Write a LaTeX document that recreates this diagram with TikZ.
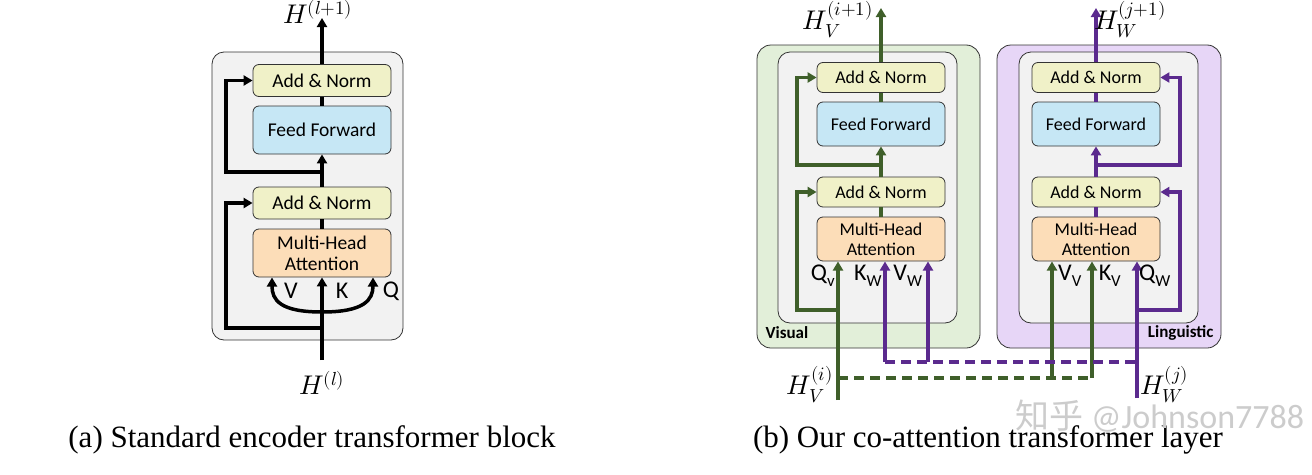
\documentclass[tikz,border=0pt]{standalone}
\usepackage{fontspec}
\usepackage{unicode-math}
\setmainfont{Liberation Serif}
\setsansfont{Carlito}
\newfontfamily\cjk{Noto Sans CJK SC}
\usetikzlibrary{arrows.meta,calc}
\definecolor{gbox}{HTML}{F2F2F2}
\definecolor{yel}{HTML}{F0F1C8}
\definecolor{blu}{HTML}{C6E7F5}
\definecolor{ora}{HTML}{FCDDB8}
\definecolor{grn}{HTML}{3F5F2A}
\definecolor{pur}{HTML}{5B2A8E}
\definecolor{grnbg}{HTML}{E2EFD9}
\definecolor{purbg}{HTML}{E7D6F7}
\tikzset{
 box/.style={draw=black!80,line width=0.8pt,rounded corners=6pt,font=\sffamily\fontsize{19.5}{22}\selectfont,align=center,inner sep=0pt},
 an/.style={box,fill=yel,minimum width=138pt,minimum height=32pt},
 ff/.style={box,fill=blu,minimum width=138pt,minimum height=48pt},
 mh/.style={box,fill=ora,minimum width=138pt,minimum height=48pt},
 an2/.style={box,fill=yel,minimum width=128pt,minimum height=30pt,font=\sffamily\fontsize{18}{21}\selectfont},
 ff2/.style={box,fill=blu,minimum width=128pt,minimum height=44pt,font=\sffamily\fontsize{18}{21}\selectfont},
 mh2/.style={box,fill=ora,minimum width=128pt,minimum height=44pt,font=\sffamily\fontsize{18}{21}\selectfont},
 ar/.style={line width=3.5pt,-{Triangle[length=9pt,width=10pt]}},
 ln/.style={line width=3.5pt},
 lab/.style={font=\sffamily\fontsize{24}{26}\selectfont,inner sep=0pt},
 mth/.style={font=\fontsize{27}{30}\selectfont,inner sep=0pt},
 dsh/.style={line width=3.5pt,dash pattern=on 10pt off 6pt},
 captxt/.style={font=\fontsize{31}{34}\selectfont},
}
\begin{document}
\begin{tikzpicture}[x=1pt,y=-1pt]
\useasboundingbox (0,0) rectangle (1312,474);
% ---------- (a)
\draw[black!80,line width=0.8pt,fill=gbox,rounded corners=12pt] (212,52) rectangle (403,340);
\node[an] (a1) at (322,80.5) {Add \& Norm};
\node[ff] (f1) at (322,130) {Feed Forward};
\node[an] (a2) at (322,203) {Add \& Norm};
\node[mh] (m1) at (322,253) {Multi-Head\\[-1pt]Attention};
\coordinate (in) at (322,360);
\coordinate (out) at (322,18);
\node[mth] (hl) at (322,383) {$H^{(l)}$};
\node[mth] (hl1) at (318,12) {$H^{(l+1)}$};
\draw[ar] (in) -- (m1.south);
\draw[ar] (322,312) .. controls (280,312) and (272,300) .. (272,277.5);
\draw[ar] (322,312) .. controls (364,312) and (373,300) .. (373,277.5);
\draw[ln] (m1.north) -- (a2.south);
\draw[ar] (a2.north) -- (f1.south);
\draw[ln] (f1.north) -- (a1.south);
\draw[ar] (a1.north) -- (out);
\draw[ar] (322,328) -- (226,328) -- (226,203) -- (a2.west);
\draw[ar] (322,172) -- (226,172) -- (226,80.5) -- (a1.west);
\node[lab] at (291,291) {V};
\node[lab] at (342,291) {K};
\node[lab] at (391,291) {Q};
\node[captxt] (ca) at (312,440) {(a) Standard encoder transformer block};
% ---------- (b) boxes
\draw[black!80,line width=0.8pt,fill=grnbg,rounded corners=14pt] (757,45) rectangle (980,348);
\draw[black!80,line width=0.8pt,fill=gbox,rounded corners=12pt] (778,52) rectangle (957,323);
\draw[black!80,line width=0.8pt,fill=purbg,rounded corners=14pt] (997,45) rectangle (1221,348);
\draw[black!80,line width=0.8pt,fill=gbox,rounded corners=12pt] (1019,52) rectangle (1198,323);
\node[font=\sffamily\bfseries\fontsize{17}{19}\selectfont,anchor=west] (vis) at (762,333) {Visual};
\node[font=\sffamily\bfseries\fontsize{17}{19}\selectfont,anchor=east] (lin) at (1217,333) {Linguistic};
\node[an2] (va1) at (881,77.5) {Add \& Norm};
\node[ff2] (vf) at (881,124) {Feed Forward};
\node[an2] (va2) at (881,192) {Add \& Norm};
\node[mh2] (vm) at (881,239) {Multi-Head\\[-1pt]Attention};
\node[an2] (la1) at (1096,77.5) {Add \& Norm};
\node[ff2] (lf) at (1096,124) {Feed Forward};
\node[an2] (la2) at (1096,192) {Add \& Norm};
\node[mh2] (lm) at (1096,239) {Multi-Head\\[-1pt]Attention};
% visual stream
\begin{scope}[draw=grn,color=grn]
\draw[dsh] (838,378) -- (1092,378);
\draw[ar] (838,400) -- (838,261.5);
\draw[ar] (1052,378) -- (1052,261.5);
\draw[ar] (1092,378) -- (1092,261.5);
\draw[ar] (838,310) -- (797,310) -- (797,192) -- (va2.west);
\draw[ln] (vm.north) -- (va2.south);
\draw[ar] (va2.north) -- (vf.south);
\draw[ln] (vf.north) -- (va1.south);
\draw[ar] (881,165) -- (797,165) -- (797,77.5) -- (va1.west);
\draw[ar] (va1.north) -- (881,8);
\end{scope}
% linguistic stream
\begin{scope}[draw=pur,color=pur]
\draw[dsh] (885,362) -- (1137,362);
\draw[ar] (1137,398) -- (1137,261.5);
\draw[ar] (885,362) -- (885,261.5);
\draw[ar] (928,362) -- (928,261.5);
\draw[ar] (1137,310) -- (1180,310) -- (1180,192) -- (la2.east);
\draw[ln] (lm.north) -- (la2.south);
\draw[ar] (la2.north) -- (lf.south);
\draw[ln] (lf.north) -- (la1.south);
\draw[ar] (1096,165) -- (1180,165) -- (1180,77.5) -- (la1.east);
\draw[ar] (la1.north) -- (1096,8);
\end{scope}
% labels
\node[lab] at (823,276) {Q\textsubscript{v}};
\node[lab] at (868,276) {K\textsubscript{W}};
\node[lab] at (908,276) {V\textsubscript{W}};
\node[lab] at (1070,276) {V\textsubscript{V}};
\node[lab] at (1110,276) {K\textsubscript{V}};
\node[lab] at (1155,276) {Q\textsubscript{W}};
\node[mth] (hv) at (810,385) {$H_V^{(i)}$};
\node[mth] (hw) at (1164,385) {$H_W^{(j)}$};
\node[mth] (hv1) at (838,20) {$H_V^{(i+1)}$};
\node[mth] (hw1) at (1130,20) {$H_W^{(j+1)}$};
\node[captxt] (cb) at (988,440) {(b) Our co-attention transformer layer};
\node[font=\sffamily\fontsize{34}{36}\selectfont,text=black!20,anchor=west] (wm) at (1012,416) {{\cjk 知乎} @Johnson7788};
\end{tikzpicture}
\end{document}
